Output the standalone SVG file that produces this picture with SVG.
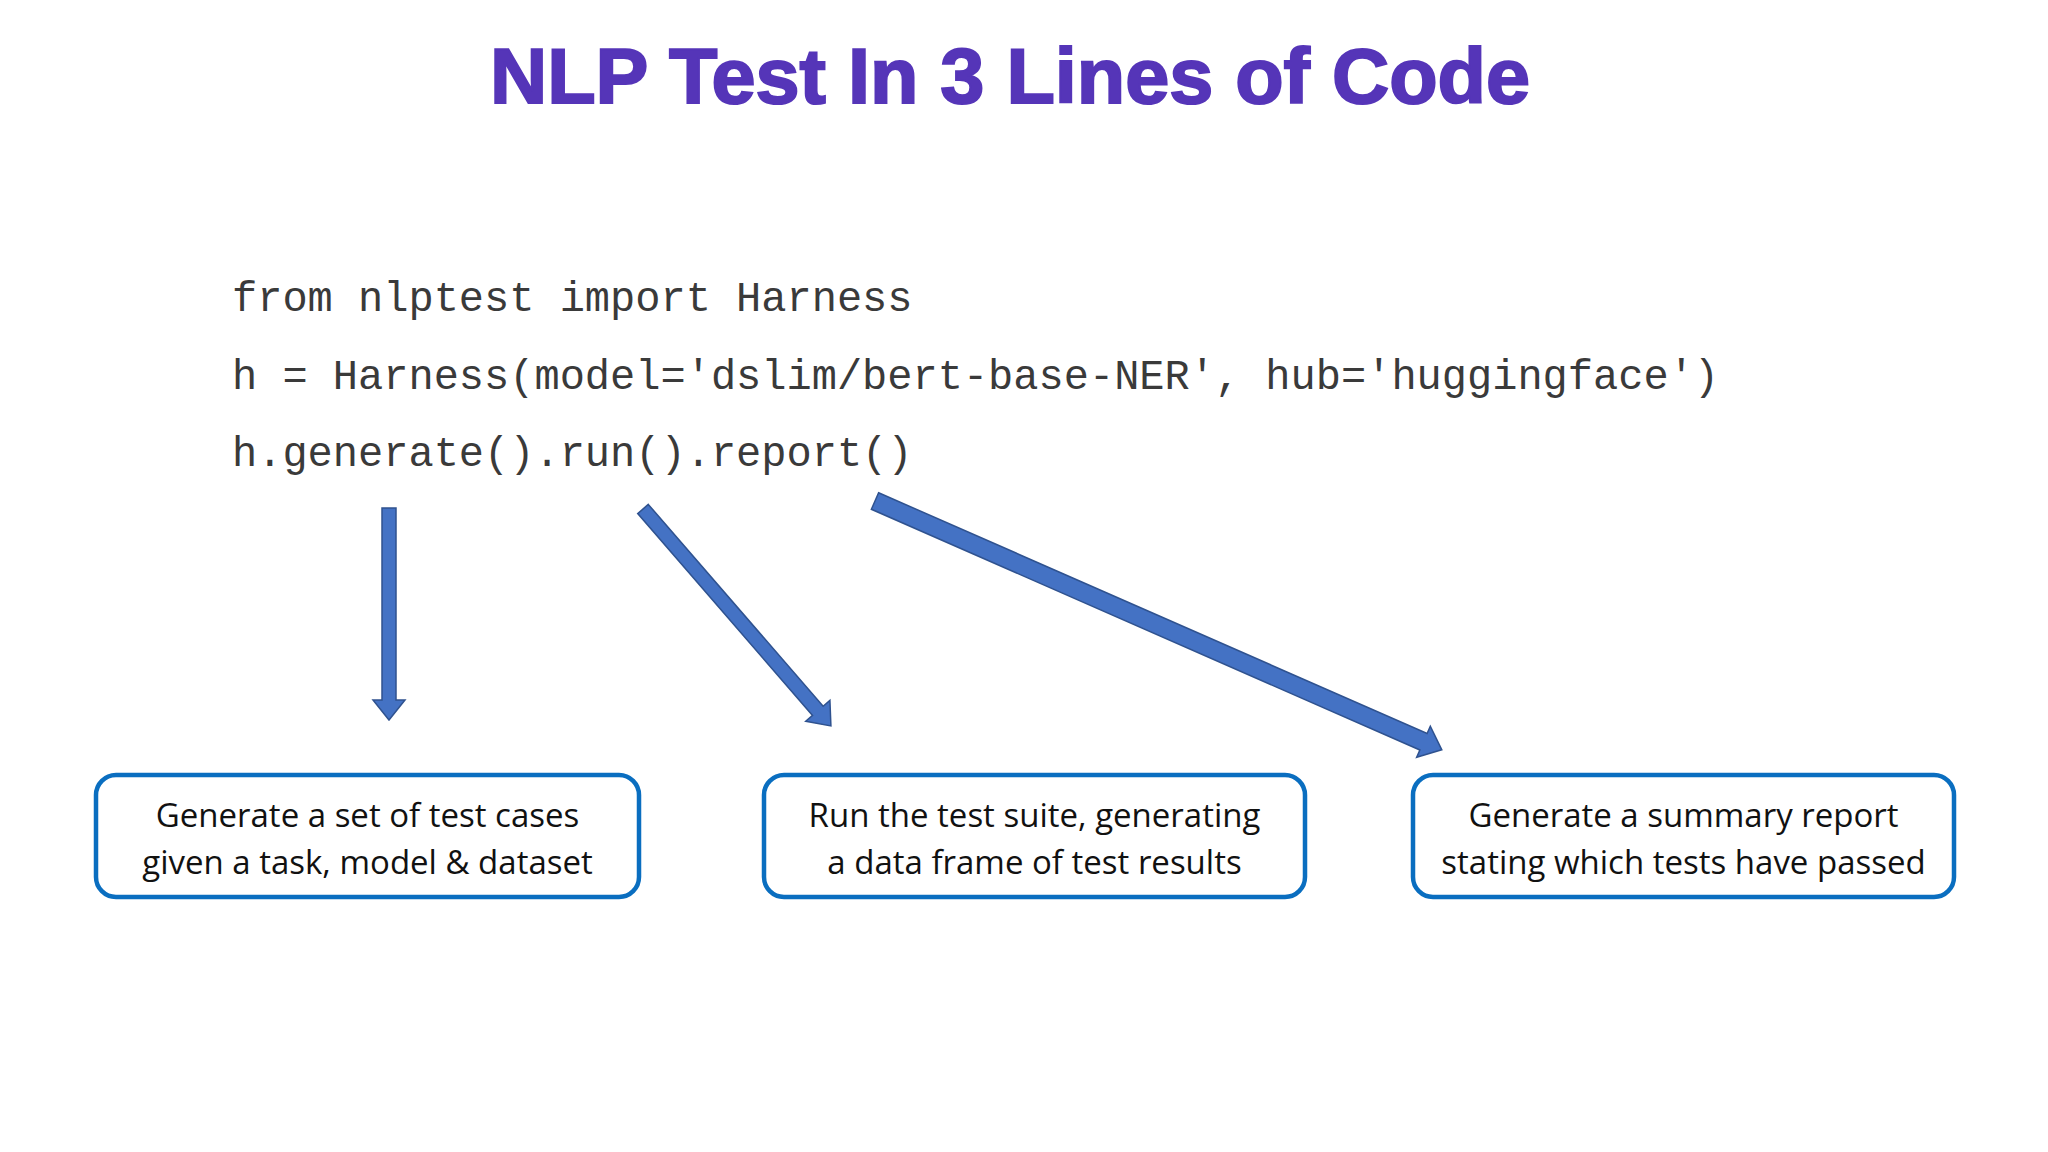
<svg xmlns="http://www.w3.org/2000/svg" width="2048" height="1152" viewBox="0 0 2048 1152">
<style>
.title{font-family:"Liberation Sans",Arial,sans-serif;font-weight:bold;font-size:78px;fill:#5535B8;stroke:#5535B8;stroke-width:2}
.code{font-family:"Liberation Mono","Courier New",monospace;font-size:42px;fill:#3a3a3a}
.box{fill:#fff;stroke:#0A6EC0;stroke-width:4.5}
.lbl{font-family:"Open Sans","Noto Sans",sans-serif;font-size:33px;fill:#111;text-anchor:middle}
.arr{fill:#4472C4;stroke:#2F528F;stroke-width:1.5}
</style>
<rect width="2048" height="1152" fill="#fff"/>
<text class="title" x="1010" y="103" text-anchor="middle" textLength="1040" lengthAdjust="spacingAndGlyphs">NLP Test In 3 Lines of Code</text>
<g id="code">
<text class="code" x="232" y="311">from nlptest import Harness</text>
<text class="code" x="232" y="389">h = Harness(model='dslim/bert-base-NER', hub='huggingface')</text>
<text class="code" x="232" y="466">h.generate().run().report()</text>
</g>
<g id="connectors">
<polygon class="arr" transform="translate(389,508) rotate(90)" points="0,-7 192,-7 192,-16 212,0 192,16 192,7 0,7"/>
<polygon class="arr" transform="translate(643,509) rotate(49.1)" points="0,-7 267,-7 267,-16 287,0 267,16 267,7 0,7"/>
<polygon class="arr" transform="translate(875,501) rotate(23.7)" points="0,-9 599,-9 599,-17 619,0 599,17 599,9 0,9"/>
</g>
<g id="node1">
<rect class="box" x="96" y="775" width="543" height="122" rx="20"/>
<text class="lbl" x="367.5" y="827">Generate a set of test cases</text>
<text class="lbl" x="367.5" y="874">given a task, model &amp; dataset</text>
</g>
<g id="node2">
<rect class="box" x="764" y="775" width="541" height="122" rx="20"/>
<text class="lbl" x="1034.5" y="827">Run the test suite, generating</text>
<text class="lbl" x="1034.5" y="874">a data frame of test results</text>
</g>
<g id="node3">
<rect class="box" x="1413" y="775" width="541" height="122" rx="20"/>
<text class="lbl" x="1683.5" y="827">Generate a summary report</text>
<text class="lbl" x="1683.5" y="874">stating which tests have passed</text>
</g>
</svg>
